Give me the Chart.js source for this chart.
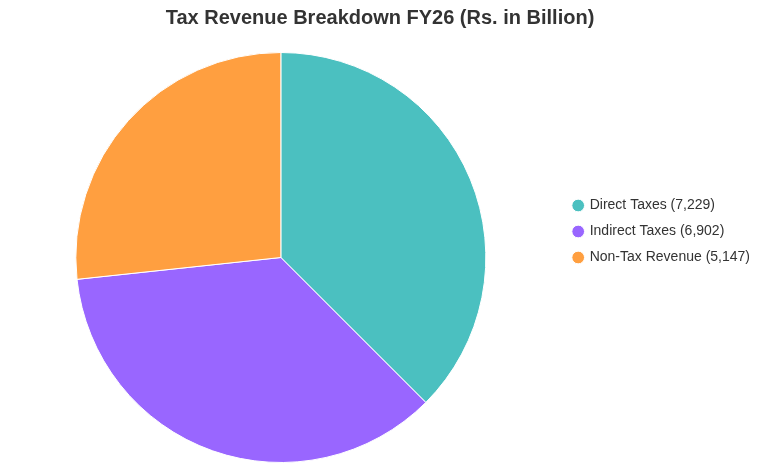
<!DOCTYPE html>
<html><head><meta charset="utf-8">
<script src="https://cdn.jsdelivr.net/npm/chart.js@4"></script>
<style>html,body{margin:0;padding:0;background:#fff}#w{width:768px;height:463px}</style>
</head><body><div id="w"><canvas id="c"></canvas></div>
<script>
const categories = ["Direct Taxes (7,229)", "Indirect Taxes (6,902)", "Non-Tax Revenue (5,147)"];
const values = [7229, 6902, 5147];
const colors = ["#4BC0C0", "#9966FF", "#FF9F40"];
new Chart(document.getElementById('c'), {
  type: 'pie',
  data: { labels: categories, datasets: [{ data: values, backgroundColor: colors, borderColor: '#fff', borderWidth: 1 }] },
  options: {
    responsive: true, maintainAspectRatio: false, animation: false,
    layout: { padding: { left: 0, right: 8, bottom: 0 } },
    plugins: {
      title: { display: true, text: 'Tax Revenue Breakdown FY26 (Rs. in Billion)', color: '#333', font: { family: 'Helvetica, Arial, sans-serif', size: 20, weight: 'bold' }, padding: { top: 6, bottom: 22 } },
      legend: { position: 'right', labels: { usePointStyle: true, pointStyle: 'circle', boxWidth: 9, boxHeight: 9, padding: 12, color: '#333', font: { family: 'Helvetica, Arial, sans-serif', size: 14 } } }
    }
  }
});
</script></body></html>
